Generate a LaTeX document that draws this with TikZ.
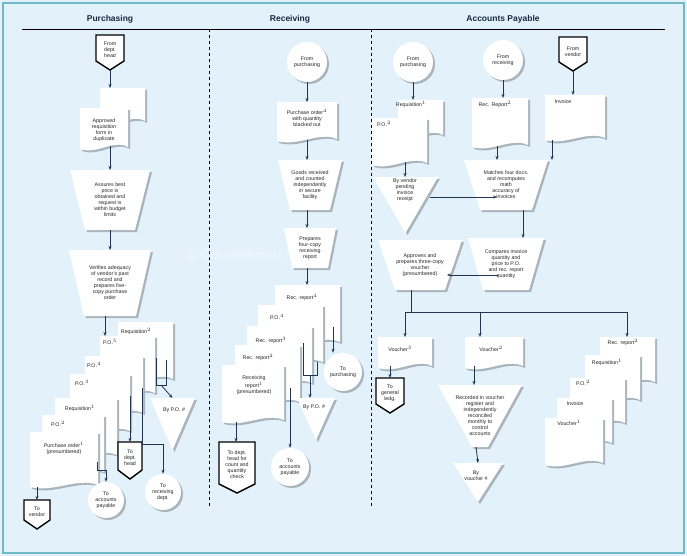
\documentclass[tikz,border=0pt]{standalone}
\usepackage{fontspec}
\setmainfont{Liberation Sans}
\usetikzlibrary{arrows.meta}
\definecolor{bgc}{HTML}{E3F1FA}
\definecolor{frc}{HTML}{6FB9C8}
\definecolor{arc}{HTML}{203550}
\definecolor{shc}{HTML}{A9B4BC}
\tikzset{
 txt/.style={font=\fontsize{5.3}{6}\selectfont, align=center, inner sep=0pt, text=black!85},
 hdr/.style={font=\bfseries\fontsize{8.5}{9}\selectfont, text=arc!80!black},
 arr/.style={draw=arc, line width=0.8pt, -{Stealth[length=4pt,width=3pt]}},
 ln/.style={draw=arc, line width=0.8pt},
 shp/.style={fill=white},
 shd/.style={fill=shc},
 off/.style={draw=black, line width=1.4pt, fill=white, line join=miter},
 bx/.style={inner sep=0pt, draw=none},
 circ/.style={circle, fill=white, inner sep=0pt, txt},
}
\newcommand\docpath[4]{(#1,#2) -- ({#1+#3},#2) -- ({#1+#3},{#2+#4-5}) .. controls ({#1+0.7*#3},{#2+#4-13}) and ({#1+0.35*#3},{#2+#4+3}) .. (#1,{#2+#4-3}) -- cycle}
% name x y w h
\newcommand\Doc[5]{%
 \fill[shd] \docpath{#2+2}{#3+2}{#4}{#5};
 \fill[shp] \docpath{#2}{#3}{#4}{#5};
 \node[bx, minimum width={#4*1pt}, minimum height={(#5-6)*1pt}, anchor=north west] (#1) at (#2,#3) {};}
% name cx ytop wtop wbot h text
\newcommand\Trap[7]{%
 \fill[shd] ({#2-#4/2+2},{#3+2}) -- ({#2+#4/2+2},{#3+2}) -- ({#2+#5/2+2},{#3+#6+2}) -- ({#2-#5/2+2},{#3+#6+2}) -- cycle;
 \fill[shp] ({#2-#4/2},#3) -- ({#2+#4/2},#3) -- ({#2+#5/2},{#3+#6}) -- ({#2-#5/2},{#3+#6}) -- cycle;
 \node[bx, minimum width={#5*1pt}, minimum height={#6*1pt}, anchor=north] (#1) at (#2,#3) {};
 \node[txt] at (#2,{#3+#6/2}) {#7};}
% name x1 x2 ytop ybot
\newcommand\Tri[5]{%
 \fill[shd] ({#2+2},{#4+2}) -- ({#3+2},{#4+2}) -- ({(#2+#3)/2+2},{#5+2}) -- cycle;
 \fill[shp] (#2,#4) -- (#3,#4) -- ({(#2+#3)/2},#5) -- cycle;
 \node[bx, minimum width=2pt, minimum height={(#5-#4)*1pt}, anchor=north] (#1) at ({(#2+#3)/2},#4) {};}
% name cx ytop w h text
\newcommand\Off[6]{%
 \draw[off] ({#2-#4/2},#3) -- ({#2+#4/2},#3) -- ({#2+#4/2},{#3+#5}) -- (#2,{#3+#5+9}) -- ({#2-#4/2},{#3+#5}) -- cycle;
 \node[bx, minimum width={#4*1pt}, minimum height={(#5+9)*1pt}, anchor=north] (#1) at (#2,#3) {};
 \node[txt] at (#2,{#3+#5/2+2}) {#6};}
% name cx cy r text
\newcommand\Circ[5]{%
 \fill[shd] ({#2+2},{#3+2}) circle (#4);
 \node[circ, minimum size={2*#4*1pt}] (#1) at (#2,#3) {#5};}
\begin{document}
\begin{tikzpicture}[x=1pt,y=-1pt]
\useasboundingbox (0,0) rectangle (687,556);
\fill[bgc] (0,0) rectangle (687,556);
\draw[frc, line width=1.5pt] (3,3) rectangle (684,553);
\node[hdr] (h1) at (110,19) {Purchasing};
\node[hdr] (h2) at (290,19) {Receiving};
\node[hdr] (h3) at (503,19) {Accounts Payable};
\draw[black, line width=0.6pt] (22,29) -- (665,29);
\draw[black, dashed, line width=0.5pt] (209,29) -- (209,508);
\draw[black, dashed, line width=0.5pt] (371,29) -- (371,508);
\node[font=\bfseries\fontsize{13}{13}\selectfont, text=white!45!bgc] (wm) at (235,255) {\textcopyright\ CourseSmart};

% ---------- Purchasing
\Off{p1}{110}{35}{28}{26}{From\\dept.\\head}
\Doc{p2b}{100}{88}{45}{38}
\Doc{p2}{80}{108}{48}{44}
\node[txt] at (104,130) {Approved\\requisition\\form in\\duplicate};
\Trap{p3}{110}{170}{80}{50}{60}{Assures best\\price is\\obtained and\\request is\\within budget\\limits}
\Trap{p4}{110}{250}{82}{52}{66}{Verifies adequacy\\of vendor's past\\record and\\prepares five-\\copy purchase\\order}
\Doc{s1}{118}{322}{55}{62}
\Doc{s2}{100}{336}{55}{62}
\Doc{s3}{85}{356}{58}{62}
\Doc{s4}{70}{374}{60}{62}
\Doc{s5}{55}{398}{62}{62}
\Doc{s6}{42}{415}{62}{62}
\Doc{s7}{30}{432}{68}{58}
\node[txt] at (136,331) {Requisition$^2$};
\node[txt] at (110,342) {P.O.$^5$};
\node[txt] at (94,365) {P.O.$^4$};
\node[txt] at (82,383) {P.O.$^3$};
\node[txt] at (80,408) {Requisition$^1$};
\node[txt] at (58,424) {P.O.$^2$};
\node[txt] at (64,448) {Purchase order$^1$\\(presumbered)};
\Tri{pf}{150}{195}{398}{450}
\node[txt] at (174,410) {By P.O. \#};
\Off{pv}{37}{500}{26}{20}{To\\vendor}
\Circ{pap}{106}{500}{18}{To\\accounts\\payable}
\Off{pdh}{130}{442}{24}{28}{To\\dept.\\head}
\Circ{prc}{163}{492}{18}{To\\receiving\\dept.}
\draw[arr] (p1) -- (p2b.north -| p1);
\draw[arr] (p2.south -| p3) -- (p3.north);
\draw[arr] (p3.south) -- (p4.north);
\draw[arr] (p4.south -| 105,0) -- (105,336);
\draw[arr] (37,487) -- (pv.north);
\draw[ln] (97,462) |- (106,470);
\draw[arr] (106,470) -- (pap.north);
\draw[arr] (130,396) -- (pdh.north);
\draw[ln] (142,388) |- (163,444);
\draw[arr] (163,444) -- (prc.north);
\draw[ln] (156,358) |- (166,385) -- (166,360);
\draw[arr] (161,385) -- (pf.north);

% ---------- Receiving
\Circ{r1}{307}{62}{20}{From\\purchasing}
\Doc{r2}{277}{102}{60}{42}
\node[txt] at (307,118) {Purchase order$^4$\\with quantity\\blacked out};
\Trap{r3}{310}{160}{64}{40}{50}{Goods received\\and counted\\independently\\in secure\\facility}
\Trap{r4}{310}{228}{52}{36}{40}{Prepares\\four-copy\\receiving\\report}
\Doc{t1}{275}{285}{65}{62}
\Doc{t2}{258}{305}{65}{62}
\Doc{t3}{247}{326}{65}{62}
\Doc{t4}{235}{345}{65}{62}
\Doc{t5}{222}{365}{62}{60}
\node[txt] at (302,297) {Rec. report$^4$};
\node[txt] at (277,317) {P.O.$^4$};
\node[txt] at (271,340) {Rec. report$^3$};
\node[txt] at (258,357) {Rec. report$^2$};
\node[txt] at (254,385) {Receiving\\report$^1$\\(presumbered)};
\Circ{rp}{343}{372}{19}{To\\purchasing}
\Tri{rf}{297}{335}{398}{440}
\node[txt] at (314,407) {By P.O. \#};
\Circ{rap}{290}{467}{19}{To\\accounts\\payable}
\Off{rdh}{237}{442}{36}{42}{To dept.\\head for\\count and\\quantity\\check}
\draw[arr] (r1) -- (r2.north -| r1);
\draw[arr] (307,140) -- (r3.north -| 307,0);
\draw[arr] (307,210) -- (307,228);
\draw[arr] (307,268) -- (307,285);
\draw[arr] (333,327) -- (rp.north -| 333,0);
\draw[ln] (303,343) |- (317,375) -- (317,362);
\draw[arr] (310,375) -- (rf.north -| 310,0);
\draw[arr] (290,388) -- (rap.north);
\draw[arr] (236,422) -- (rdh.north -| 236,0);

% ---------- Accounts payable
\Circ{a1}{413}{62}{20}{From\\purchasing}
\Circ{a2}{503}{60}{20}{From\\receiving}
\Off{a3}{573}{37}{28}{25}{From\\vendor}
\Doc{a4b}{398}{100}{45}{40}
\Doc{a4}{372}{118}{55}{50}
\node[txt] at (411,104) {Requisition$^1$};
\node[txt] at (384,124) {P.O.$^2$};
\Doc{a5}{472}{98}{56}{52}
\node[txt] at (495,104) {Rec. Report$^2$};
\Doc{a6}{545}{95}{60}{48}
\node[txt] at (563,102) {Invoice};
\Tri{af}{373}{438}{177}{233}
\node[txt] at (405,190) {By vendor\\pending\\invoice\\receipt};
\Trap{am}{506}{160}{84}{52}{50}{Matches four docs.\\and recomputes\\math\\accuracy of\\invoices}
\Trap{ac}{506}{238}{76}{46}{52}{Compares invoice\\quantity and\\price to P.O.\\and rec. report\\quantity}
\Trap{aa}{420}{240}{84}{50}{50}{Approves and\\prepares three-copy\\voucher\\(presumbered)}
\draw[arr] (a1) -- (a4b.north -| a1);
\draw[arr] (a2) -- (a5.north -| a2);
\draw[arr] (a3) -- (a6.north -| a3);
\draw[arr] (405,162) -- (af.north -| 405,0);
\draw[arr] (430,197) -- (497,197);
\draw[arr] (497,146) -- (am.north -| 497,0);
\draw[arr] (552,140) -- (am.north -| 552,0);
\draw[arr] (523,210) -- (ac.north -| 523,0);
\draw[arr] (498,275) -- (447,275);
\draw[ln] (411,290) -- (411,312);
\draw[ln] (405,312) -- (627,312);
\Doc{v3}{378}{337}{54}{34}
\node[txt] at (400,349) {Voucher$^3$};
\Doc{v2}{465}{337}{58}{34}
\node[txt] at (491,349) {Voucher$^2$};
\Off{agl}{390}{378}{28}{26}{To\\general\\ledg.}
\Trap{ar}{480}{385}{84}{16}{62}{Recorded in voucher\\register and\\independently\\reconciled\\monthly to\\control\\accounts}
\Tri{avf}{453}{503}{463}{502}
\node[txt] at (476,476) {By\\voucher \#};
\Doc{w1}{600}{337}{55}{50}
\Doc{w2}{585}{355}{55}{50}
\Doc{w3}{570}{378}{55}{50}
\Doc{w4}{557}{398}{55}{50}
\Doc{w5}{545}{418}{58}{50}
\node[txt] at (623,342) {Rec. report$^2$};
\node[txt] at (607,362) {Requisition$^1$};
\node[txt] at (583,383) {P.O.$^2$};
\node[txt] at (575,404) {Invoice};
\node[txt] at (569,423) {Voucher$^1$};
\draw[arr] (405,312) -- (v3.north -| 405,0);
\draw[arr] (480,312) -- (v2.north -| 480,0);
\draw[arr] (627,312) -- (w1.north -| 627,0);
\draw[arr] (390,366) -- (agl.north);
\draw[arr] (474,366) -- (ar.north -| 474,0);
\draw[arr] (476,447) -- (avf.north);
\end{tikzpicture}
\end{document}
